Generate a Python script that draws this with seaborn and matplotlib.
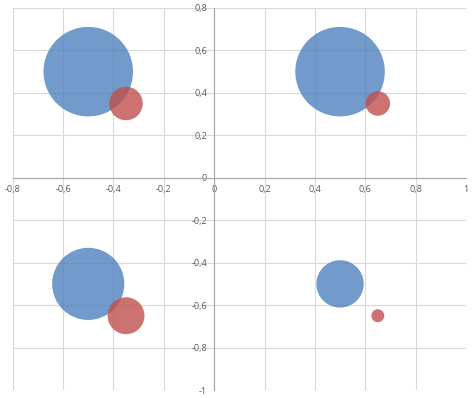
import matplotlib
matplotlib.use("Agg")
import matplotlib.pyplot as plt
import matplotlib.ticker as mticker
import seaborn as sns
import pandas as pd

# Bubble data (two series, four bubbles each)
blue_x = [-0.5, 0.5, -0.5, 0.5]
blue_y = [0.5, 0.5, -0.5, -0.5]
blue_size = [1.0, 1.0, 0.65, 0.28]

red_x = [-0.35, 0.65, -0.35, 0.65]
red_y = [0.35, 0.35, -0.65, -0.65]
red_size = [0.14, 0.075, 0.17, 0.021]

x_ticks = [-0.8, -0.6, -0.4, -0.2, 0, 0.2, 0.4, 0.6, 0.8, 1.0]
y_ticks = [-1.0, -0.8, -0.6, -0.4, -0.2, 0, 0.2, 0.4, 0.6, 0.8]

df = pd.DataFrame({
    'x': blue_x + red_x,
    'y': blue_y + red_y,
    'size': blue_size + red_size,
    'series': ['A'] * len(blue_x) + ['B'] * len(red_x),
})

sns.set_style("white")
plt.rcParams['font.family'] = ['Open Sans', 'DejaVu Sans']

fig = plt.figure(figsize=(4.74, 3.98), dpi=100)
ax = fig.add_axes([0.0268, 0.0201, 0.9562, 0.9598])

# bubble area proportional to value, biggest bubble ~89px across
max_area = (89.5 * 0.72) ** 2
sns.scatterplot(data=df, x='x', y='y', hue='series', size='size',
                palette={'A': '#4F81BD', 'B': '#C0504D'},
                sizes=(0, max_area), size_norm=(0, 1.0),
                alpha=0.8, linewidth=0, legend=False, ax=ax, zorder=3)

ax.set_xlim(-0.8, 1.0)
ax.set_ylim(-1.0, 0.8)
ax.set_xticks(x_ticks)
ax.set_yticks(y_ticks)

# comma decimals like the original
fmt = mticker.FuncFormatter(lambda v, p: ('%g' % round(v, 2)).replace('.', ','))
ax.xaxis.set_major_formatter(fmt)
ax.yaxis.set_major_formatter(fmt)

ax.grid(True, color='#d9d9d9', linewidth=0.8, zorder=0)
ax.set_axisbelow(True)

for s in ['top', 'right']:
    ax.spines[s].set_visible(False)
for s in ['left', 'bottom']:
    ax.spines[s].set_position('zero')
    ax.spines[s].set_color('#a6a6a6')
    ax.spines[s].set_linewidth(0.8)

ax.tick_params(axis='both', length=3, width=0.8, color='#a6a6a6',
               labelsize=6.5, labelcolor='#595959', direction='out', pad=2)
ax.set_xlabel('')
ax.set_ylabel('')

plt.savefig('out.png', dpi=100)
